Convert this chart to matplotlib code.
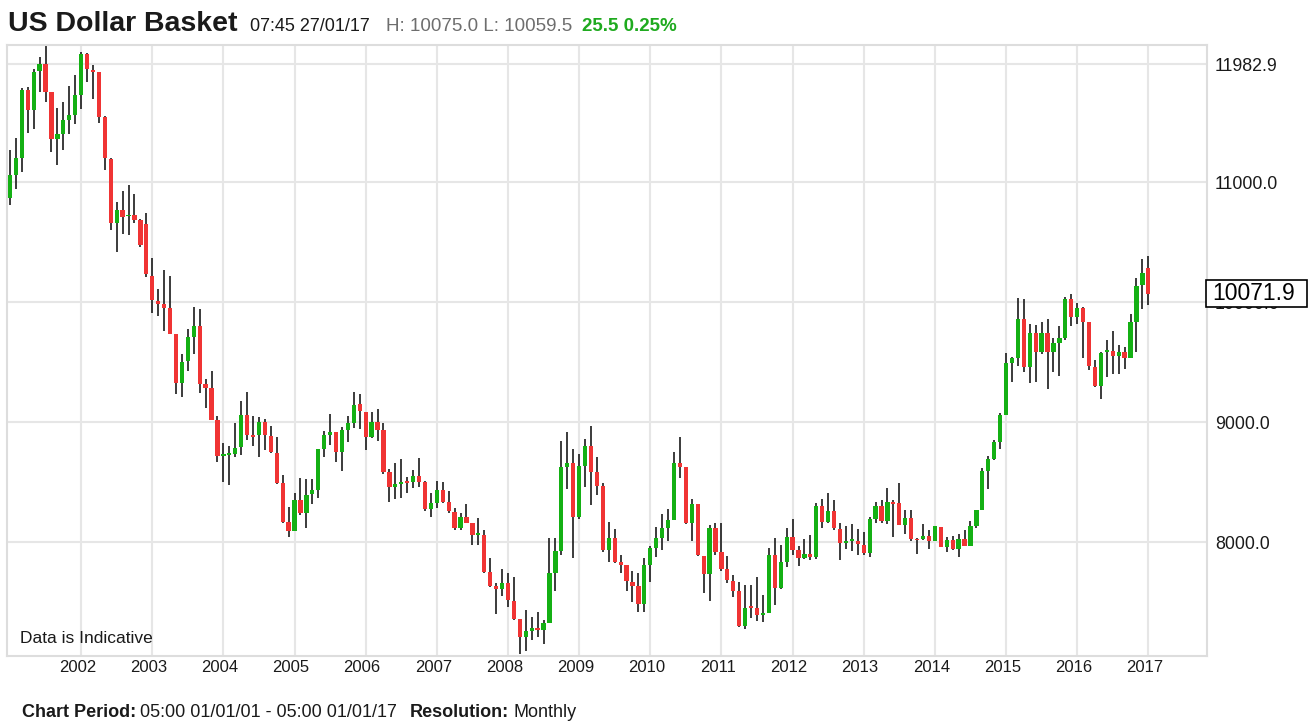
import matplotlib
matplotlib.use("Agg")
import matplotlib.pyplot as plt
from matplotlib.patches import Rectangle
from matplotlib.transforms import blended_transform_factory

plt.rcParams['font.family'] = ['Liberation Sans', 'DejaVu Sans']

# monthly candles, Jan 2001 .. Jan 2017
opens = [10867, 11061, 11205, 11769, 11602, 11927, 11983, 11750, 11361, 11400, 11519, 11561,
         11727, 12067, 11936, 11917, 11547, 11194, 10664, 10769, 10719, 10728, 10683, 10650,
         10222, 10011, 9983, 9950, 9736, 9330, 9511, 9713, 9805, 9316, 9283, 9019,
         8722, 8730, 8739, 8797, 9061, 8894, 8894, 9000, 8889, 8742, 8492, 8172,
         8097, 8353, 8247, 8400, 8436, 8775, 8894, 8922, 8755, 8936, 8992, 9150,
         9089, 8880, 9005, 8936, 8583, 8458, 8483, 8505, 8500, 8555, 8505, 8275,
         8330, 8436, 8339, 8256, 8122, 8214, 8158, 8061, 8061, 7750, 7636, 7611,
         7658, 7514, 7358, 7208, 7264, 7283, 7269, 7331, 7742, 7928, 8625, 8664,
         8208, 8639, 8805, 8583, 8469, 7936, 8033, 7833, 7811, 7672, 7636, 7486,
         7811, 7956, 8033, 8117, 8186, 8658, 8625, 8158, 8317, 7889, 7739, 8117,
         7917, 7775, 7681, 7594, 7303, 7464, 7450, 7394, 7408, 7894, 7622, 7839,
         8042, 7936, 7872, 7900, 7875, 8303, 8172, 8264, 8111, 7997, 8011, 8011,
         7978, 7914, 8192, 8306, 8178, 8333, 8330, 8144, 8206, 8028, 8025, 8056,
         8014, 8131, 7964, 8019, 7944, 8028, 7972, 8139, 8269, 8597, 8694, 8839,
         9061, 9497, 9533, 9861, 9464, 9747, 9583, 9747, 9583, 9658, 9700, 10025,
         9881, 9955, 9833, 9464, 9305, 9589, 9594, 9556, 9589, 9539, 9839, 10144,
         10283]
highs = [11269, 11372, 11788, 11797, 11942, 12047, 12138, 11755, 11622, 11667, 11805, 11894,
         12088, 12075, 11977, 11922, 11552, 11200, 10833, 10928, 10978, 10900, 10690, 10742,
         10367, 10111, 10269, 10219, 9736, 9569, 9778, 9958, 9942, 9358, 9430, 9055,
         8825, 8805, 8992, 9178, 9250, 9053, 9042, 9028, 8972, 8875, 8561, 8297,
         8408, 8539, 8525, 8525, 8775, 8930, 9067, 8922, 8964, 9053, 9250, 9233,
         9089, 9089, 9111, 8997, 8608, 8658, 8694, 8547, 8603, 8700, 8510, 8414,
         8514, 8505, 8430, 8283, 8242, 8317, 8160, 8200, 8103, 7872, 7664, 7775,
         7742, 7708, 7360, 7436, 7380, 7422, 7353, 8033, 8033, 8844, 8917, 8778,
         8733, 8858, 8969, 8714, 8492, 8172, 8108, 7894, 7811, 7761, 7742, 7867,
         7972, 8130, 8233, 8278, 8755, 8875, 8625, 8358, 8317, 7889, 8144, 8158,
         8158, 7886, 7728, 7672, 7644, 7644, 7708, 7561, 7950, 8033, 7978, 8122,
         8194, 7969, 8025, 8061, 8325, 8358, 8414, 8353, 8158, 8139, 8150, 8110,
         8089, 8208, 8339, 8353, 8450, 8353, 8492, 8269, 8269, 8039, 8150, 8103,
         8136, 8131, 8047, 8056, 8067, 8103, 8178, 8269, 8620, 8716, 8850, 9075,
         9580, 9544, 10039, 10025, 9817, 9811, 9839, 9858, 9700, 9803, 10042, 10069,
         9992, 9964, 9833, 9519, 9589, 9686, 9761, 9644, 9625, 9903, 10206, 10361,
         10386]
lows = [10811, 10942, 11088, 11408, 11442, 11755, 11667, 11255, 11144, 11269, 11400, 11486,
        11608, 11833, 11692, 11497, 11102, 10603, 10417, 10569, 10561, 10664, 10458, 10213,
        9908, 9889, 9764, 9736, 9233, 9213, 9430, 9569, 9242, 9122, 9019, 8667,
        8505, 8478, 8714, 8728, 8853, 8805, 8714, 8769, 8742, 8486, 8158, 8047,
        8097, 8228, 8122, 8319, 8367, 8708, 8811, 8667, 8597, 8833, 8950, 8944,
        8769, 8867, 8844, 8569, 8339, 8358, 8367, 8414, 8450, 8464, 8261, 8214,
        8283, 8325, 8242, 8103, 8103, 8158, 7978, 7978, 7747, 7631, 7403, 7553,
        7458, 7353, 7069, 7097, 7186, 7208, 7150, 7331, 7594, 7894, 8442, 7872,
        8194, 8458, 8311, 8394, 7922, 7839, 7825, 7742, 7594, 7500, 7417, 7422,
        7667, 7875, 7936, 8014, 8186, 8533, 8153, 8011, 7886, 7575, 7514, 7894,
        7761, 7664, 7542, 7292, 7275, 7372, 7344, 7339, 7408, 7478, 7608, 7797,
        7894, 7803, 7858, 7853, 7858, 8117, 8164, 8103, 7853, 7940, 7930, 7894,
        7894, 7881, 8158, 8158, 8150, 8047, 8144, 8067, 8011, 7900, 8019, 7944,
        8010, 7958, 7917, 7936, 7881, 7972, 7972, 8122, 8269, 8447, 8686, 8778,
        9061, 9339, 9469, 9422, 9330, 9339, 9567, 9275, 9422, 9389, 9686, 9803,
        9819, 9533, 9436, 9297, 9194, 9381, 9403, 9403, 9442, 9539, 9589, 9944,
        9978]
closes = [11061, 11205, 11769, 11602, 11922, 11983, 11750, 11361, 11400, 11519, 11561, 11727,
          12067, 11942, 11917, 11547, 11200, 10664, 10769, 10714, 10728, 10686, 10478, 10233,
          10019, 9986, 9955, 9736, 9330, 9505, 9708, 9805, 9319, 9289, 9019, 8722,
          8736, 8739, 8789, 9061, 8894, 8880, 9000, 8894, 8750, 8492, 8172, 8097,
          8353, 8247, 8394, 8436, 8775, 8894, 8917, 8755, 8936, 8992, 9144, 9094,
          8880, 9005, 8936, 8583, 8458, 8483, 8505, 8497, 8555, 8505, 8275, 8330,
          8436, 8339, 8261, 8122, 8214, 8164, 8061, 8067, 7755, 7639, 7608, 7658,
          7519, 7358, 7208, 7261, 7283, 7269, 7325, 7742, 7928, 8625, 8664, 8208,
          8639, 8805, 8589, 8472, 7936, 8033, 7833, 7811, 7681, 7639, 7486, 7811,
          7956, 8033, 8117, 8186, 8658, 8625, 8158, 8317, 7894, 7739, 8117, 7922,
          7778, 7686, 7597, 7303, 7455, 7455, 7394, 7408, 7894, 7622, 7839, 8042,
          7936, 7872, 7900, 7875, 8303, 8172, 8264, 8117, 7997, 8011, 8020, 7983,
          7914, 8192, 8306, 8178, 8333, 8315, 8144, 8200, 8025, 8019, 8056, 8014,
          8136, 7964, 8019, 7944, 8028, 7972, 8139, 8269, 8597, 8694, 8839, 9061,
          9492, 9533, 9861, 9464, 9747, 9583, 9747, 9583, 9658, 9700, 10025, 9881,
          9955, 9833, 9469, 9305, 9580, 9603, 9556, 9589, 9539, 9839, 10136, 10242,
          10072]

year_labels = [str(y) for y in range(2002, 2018)]
price_levels = [11982.9, 11000.0, 10000.0, 9000.0, 8000.0]
last_price = 10071.9

W, H = 1313, 728
GREEN = '#14b014'
RED = '#f03434'
GRID = '#e6e6e6'
TXT = '#1a1a1a'

fig = plt.figure(figsize=(W / 100, H / 100), dpi=100)
ax = fig.add_axes([7 / W, 1 - 656 / H, 1200 / W, 611 / H])

# grid first
jan_idx = [12 * k for k in range(1, 17)]
for xi in jan_idx:
    ax.axvline(xi, color=GRID, lw=1.5, zorder=0)
for lv in price_levels:
    ax.axhline(lv, color=GRID, lw=1.5, zorder=0)

# candles: wicks then bodies
idx = list(range(len(opens)))
ax.vlines(idx, lows, highs, color=TXT, lw=1.2, zorder=2)
bottoms = [min(o, c) for o, c in zip(opens, closes)]
heights = [max(abs(c - o), 12) for o, c in zip(opens, closes)]
colors = [GREEN if c >= o else RED for o, c in zip(opens, closes)]
ax.bar(idx, heights, bottom=bottoms, width=0.72, color=colors, linewidth=0, zorder=3)

ax.set_xlim(-0.5, 201.9)
ax.set_ylim(7052, 12144)

for sp in ax.spines.values():
    sp.set_color('#dddddd')
    sp.set_linewidth(1.5)

ax.set_xticks([x - 0.6 for x in jan_idx])
ax.set_xticklabels(year_labels, fontsize=12, color=TXT)
ax.yaxis.tick_right()
ax.set_yticks(price_levels)
ax.set_yticklabels(['%.1f' % v for v in price_levels], fontsize=12.8, color=TXT)
ax.tick_params(axis='x', length=0, pad=3)
ax.tick_params(axis='y', length=0, pad=5.8)

# last price marker on the right axis (sits over the 10000.0 label, as in the original)
tr = blended_transform_factory(ax.transAxes, ax.transData)
box_h = 27 * (12144 - 7052) / 611
ax.add_patch(Rectangle((1199 / 1200, last_price - box_h / 2), 101 / 1200, box_h,
                       transform=tr, facecolor='white', edgecolor='black', lw=1.2,
                       clip_on=False, zorder=10))
ax.text(1205 / 1200, last_price, '%.1f' % last_price, transform=tr, ha='left', va='center',
        fontsize=16.5, color='black', zorder=11, clip_on=False)

ax.text(13 / 1200, 1 - (643 - 45) / 611, 'Data is Indicative', transform=ax.transAxes,
        fontsize=12.5, color=TXT, va='baseline')

renderer = fig.canvas.get_renderer()


def put(x, y, s, **kw):
    t = fig.text(x / W, 1 - y / H, s, va='baseline', **kw)
    return t.get_window_extent(renderer).x1


# header line
x = put(8, 31, 'US Dollar Basket', fontsize=20.5, fontweight='bold', color=TXT)
x = put(x + 13, 31, '07:45 27/01/17', fontsize=13, color=TXT)
x = put(x + 16, 31, 'H: 10075.0 L: 10059.5', fontsize=13.5, color='#6e6e6e')
put(x + 10, 31, '25.5 0.25%', fontsize=13.5, fontweight='bold', color='#1faa1f')

# footer line
x = put(22, 717, 'Chart Period:', fontsize=13, fontweight='bold', color=TXT)
x = put(x + 4, 717, '05:00 01/01/01 - 05:00 01/01/17', fontsize=13, color=TXT)
x = put(x + 13, 717, 'Resolution:', fontsize=13, fontweight='bold', color=TXT)
put(x + 4, 717, 'Monthly', fontsize=13, color=TXT)

fig.savefig('out.png', dpi=100)
